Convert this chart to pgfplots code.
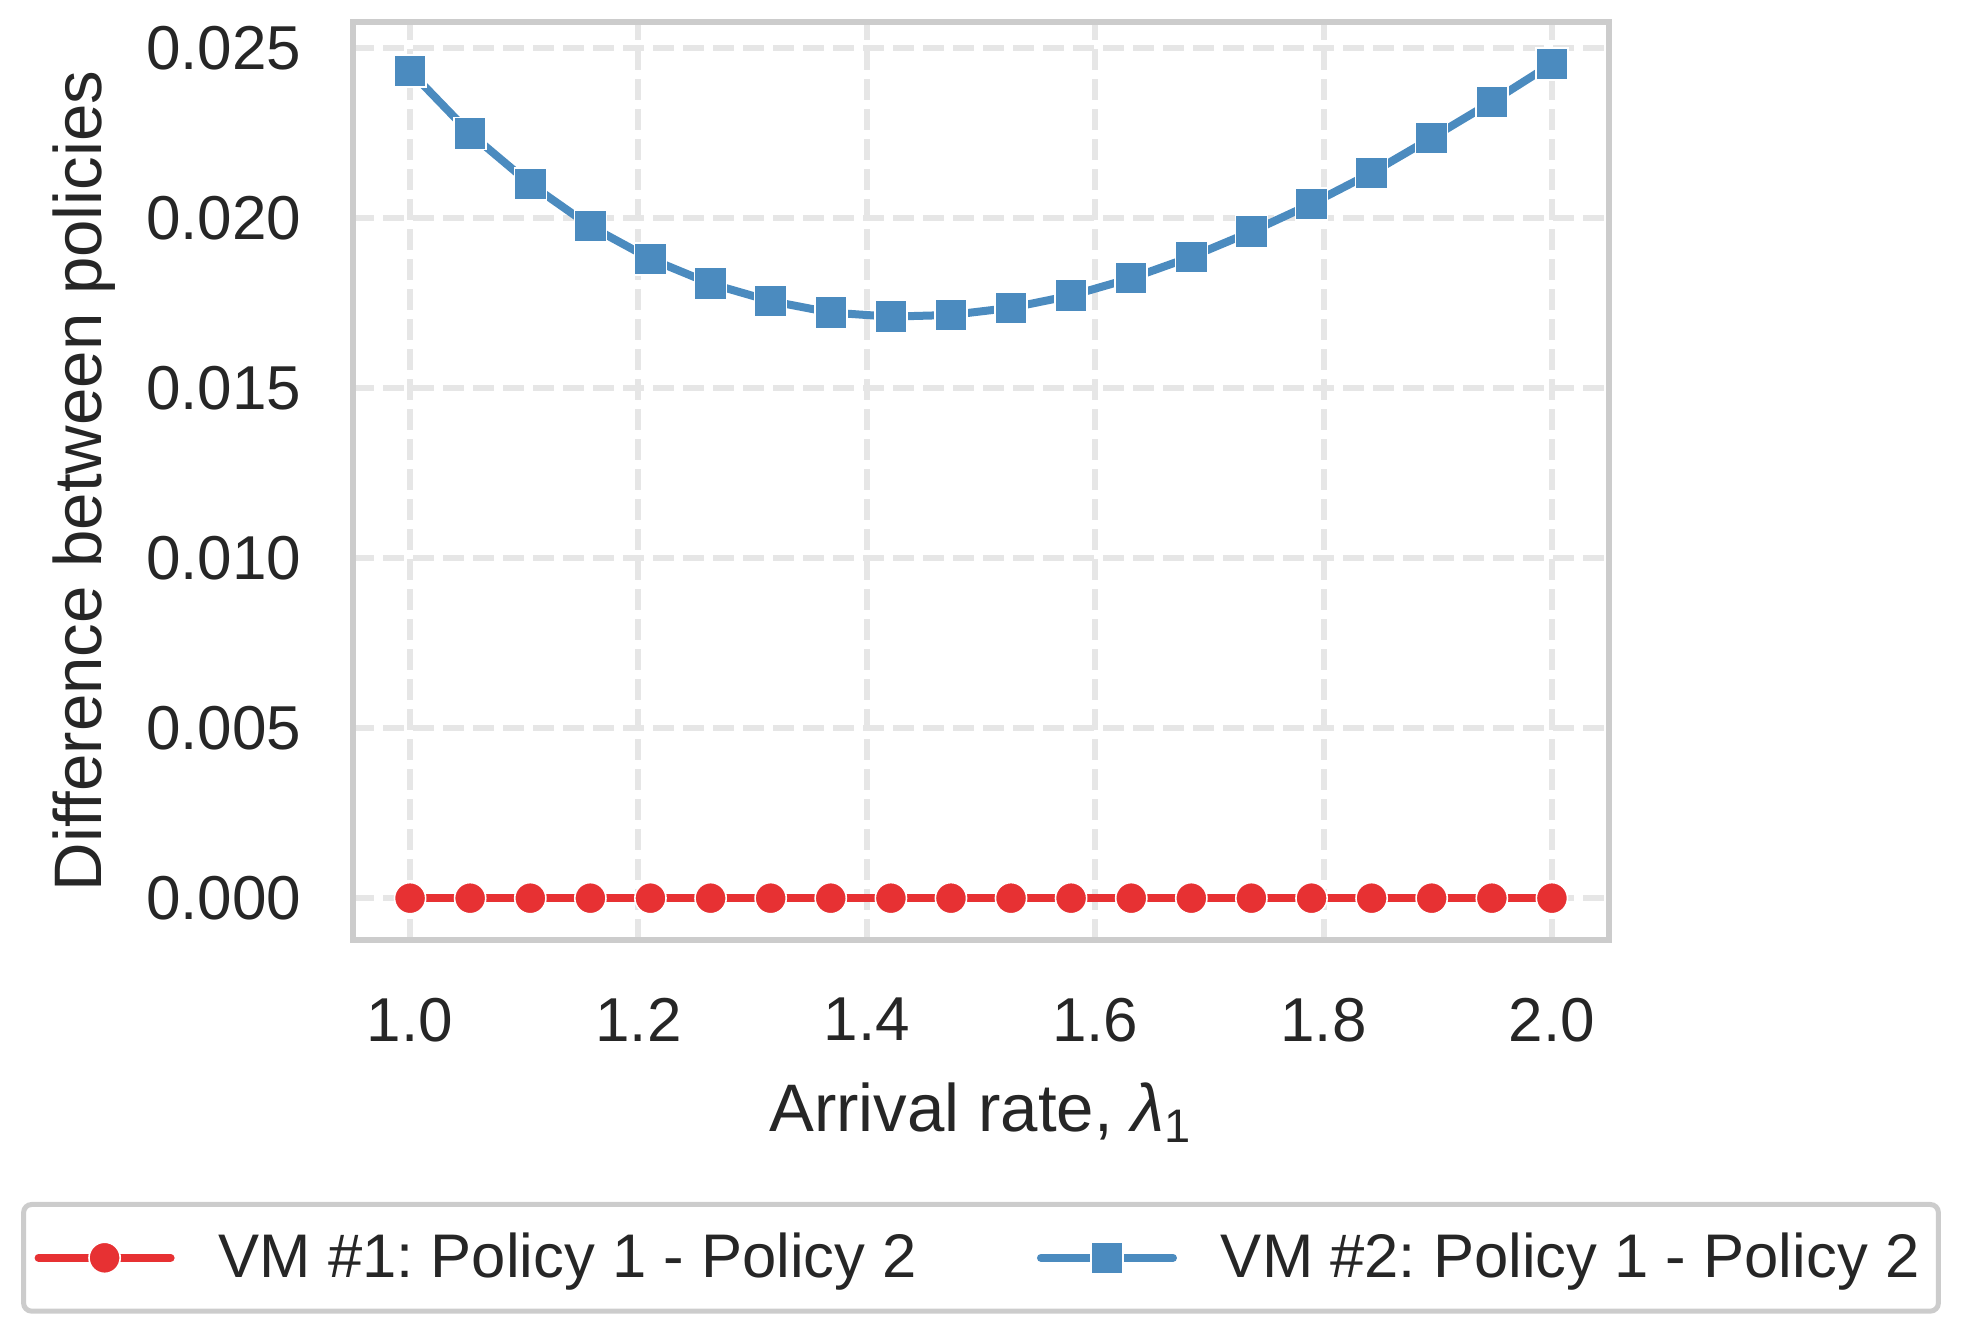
\documentclass[border=0pt]{standalone}
\usepackage{fontspec}
\setmainfont{Liberation Sans}
\usepackage{pgfplots}
\pgfplotsset{compat=1.18}
\definecolor{myred}{RGB}{231,49,51}
\definecolor{myblue}{RGB}{75,139,191}
\definecolor{framegray}{RGB}{204,204,204}
\definecolor{gridgray}{RGB}{230,230,230}
\definecolor{textgray}{RGB}{38,38,38}
\newcommand{\ff}{\fontsize{15.5}{18.5}\selectfont}
\newcommand{\lf}{\fontsize{16.8}{20}\selectfont}
\newcommand{\gf}{\fontsize{15.4}{18.5}\selectfont}
\frenchspacing
\begin{document}
\begin{tikzpicture}
\begin{axis}[
  name=main,
  scale only axis,
  width=314pt, height=229.5pt,
  xmin=0.95, xmax=2.05,
  ymin=-0.00123, ymax=0.02578,
  xtick={1.0,1.2,1.4,1.6,1.8,2.0},
  ytick={0,0.005,0.010,0.015,0.020,0.025},
  scaled y ticks=false,
  /pgf/number format/assume math mode=true,
  xticklabel style={/pgf/number format/.cd, fixed, fixed zerofill, precision=1, /tikz/.cd, yshift=-11pt},
  yticklabel style={/pgf/number format/.cd, fixed, fixed zerofill, precision=3, /tikz/.cd, xshift=-9.4pt},
  tick label style={font=\ff, color=textgray},
  major tick length=0pt,
  grid=major,
  major grid style={color=gridgray, line width=1.5pt, dash pattern=on 5.25pt off 2.25pt},
  axis line style={color=framegray, line width=1.5pt},
  xlabel={Arrival rate, \textit{λ}\textsubscript{1}},
  ylabel={Difference between policies},
  label style={font=\lf, color=textgray},
  xlabel style={at={(axis description cs:0.5,-0.20915)}, anchor=base},
  ylabel style={at={(axis description cs:-0.19984,0.5)}, anchor=base},
  legend columns=2,
  legend cell align=left,
  legend style={at={(axis description cs:0.5,-0.2854)}, anchor=north,
    font=\gf, text=textgray, draw=framegray, line width=1.25pt, rounded corners=2pt,
    inner xsep=2.75pt, inner ysep=5pt,
    /tikz/every odd column/.append style={column sep=9pt},
    /tikz/every even column/.append style={column sep=28pt}},
  legend image code/.code={\draw[#1, mark repeat=2, mark phase=2] plot coordinates {(0pt,0pt) (16.5pt,0pt) (33pt,0pt)};},
]
\addplot[color=myred, line width=2pt, line cap=round, mark=*, mark size=3.9pt,
  mark options={fill=myred, draw=white, line width=0.4pt}] coordinates {
(1.0000,0) (1.0526,0) (1.1053,0) (1.1579,0) (1.2105,0) (1.2632,0) (1.3158,0)
(1.3684,0) (1.4211,0) (1.4737,0) (1.5263,0) (1.5789,0) (1.6316,0) (1.6842,0)
(1.7368,0) (1.7895,0) (1.8421,0) (1.8947,0) (1.9474,0) (2.0000,0)
};
\addlegendentry{VM \#1: Policy 1 - Policy 2}
\addplot[color=myblue, line width=2pt, line cap=round, mark=square*, mark size=4pt,
  mark options={fill=myblue, draw=white, line width=0.4pt}] coordinates {
(1.0000,0.02433) (1.0526,0.02250) (1.1053,0.02101) (1.1579,0.01977) (1.2105,0.01881)
(1.2632,0.01808) (1.3158,0.01757) (1.3684,0.01723) (1.4211,0.01711) (1.4737,0.01716)
(1.5263,0.01737) (1.5789,0.01773) (1.6316,0.01824) (1.6842,0.01887) (1.7368,0.01961)
(1.7895,0.02043) (1.8421,0.02134) (1.8947,0.02237) (1.9474,0.02343) (2.0000,0.02455)
};
\addlegendentry{VM \#2: Policy 1 - Policy 2}
\end{axis}
\pgfresetboundingbox
\path[use as bounding box] (-88.25pt,-96pt) rectangle (402pt,235pt);
\end{tikzpicture}
\end{document}
